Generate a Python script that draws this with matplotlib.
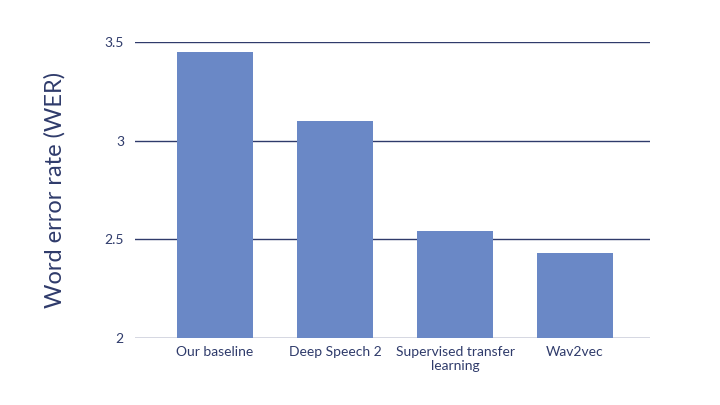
import matplotlib
matplotlib.use("Agg")
import matplotlib.pyplot as plt

categories = ["Our baseline", "Deep Speech 2", "Supervised transfer\nlearning", "Wav2vec"]
wer = [3.45, 3.10, 2.54, 2.43]
yticks = [2, 2.5, 3, 3.5]
ytick_labels = ["2", "2.5", "3", "3.5"]

plt.rcParams['font.family'] = ['Lato', 'DejaVu Sans']
fig = plt.figure(figsize=(7.2, 4.05), dpi=100)
ax = fig.add_axes([135/720, 1-338/405, (650-135)/720, (338-42)/405])
text_c = "#2f3b6b"
ax.bar(range(len(categories)), wer, width=0.63, color="#6a88c6", zorder=3, bottom=0)
ax.set_ylim(2, 3.5)
ax.set_xlim(-0.667, 3.625)
ax.set_yticks(yticks)
ax.set_yticklabels(ytick_labels, color=text_c, fontsize=10)
ax.set_xticks(range(len(categories)))
ax.set_xticklabels(categories, color=text_c, fontsize=10)
ax.tick_params(length=0, pad=8)
ax.tick_params(axis='x', pad=6)
ax.grid(axis='y', color="#2f3b6b", linewidth=1.0, zorder=0)
for s in ax.spines.values():
    s.set_visible(False)
ax.set_ylabel("Word error rate (WER)", color=text_c, fontsize=17, labelpad=28)
fig.savefig("out.png", dpi=100)
